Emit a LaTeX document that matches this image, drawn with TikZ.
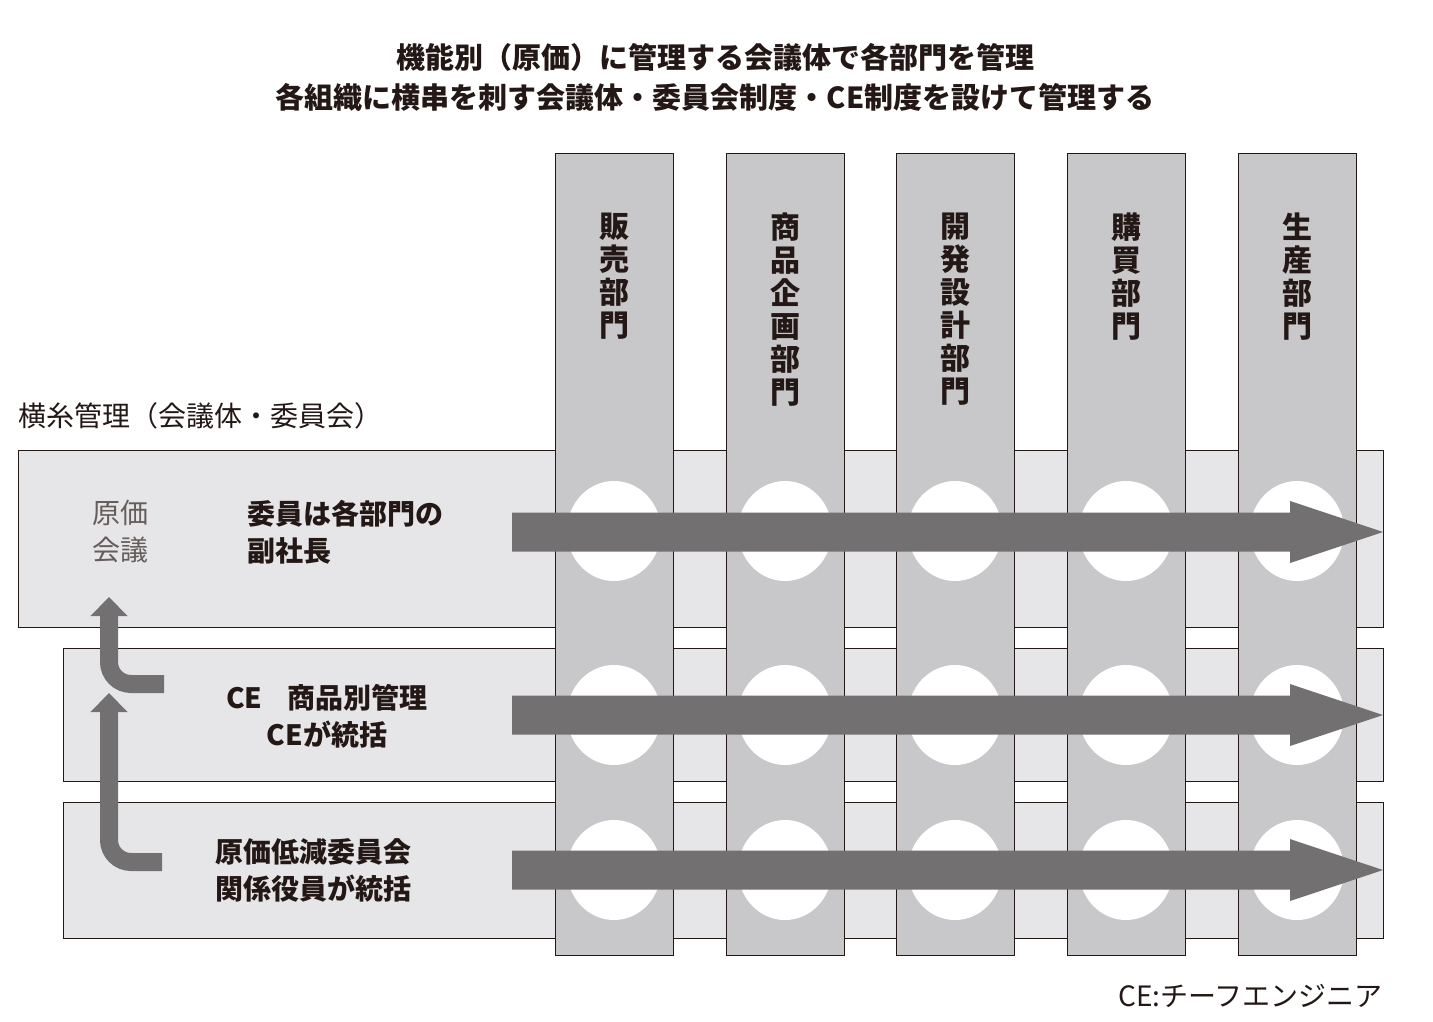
\documentclass[tikz,border=0pt]{standalone}
\usepackage{fontspec}
\setmainfont{Noto Sans CJK JP}
\usetikzlibrary{arrows.meta}
\definecolor{bandc}{HTML}{E6E6E8}
\definecolor{colc}{HTML}{C8C8CA}
\definecolor{arrc}{HTML}{727071}
\definecolor{txt}{HTML}{231815}
\tikzset{
 band/.style={draw=txt, line width=0.9pt, fill=bandc},
 column/.style={draw=txt, line width=0.9pt, fill=colc},
 hole/.style={fill=white, draw=none},
 bigarrow/.style={draw=none, fill=arrc},
 uparrow/.style={draw=arrc, line width=18pt, rounded corners=22pt, -{Triangle[width=36pt,length=19pt]}},
 coltext/.style={font=\fontsize{30}{33}\selectfont\bfseries, align=center, anchor=north, text=txt, inner sep=0},
 lbl/.style={font=\fontsize{28}{37}\selectfont\bfseries, text=txt, inner sep=0},
}
\begin{document}
\begin{tikzpicture}[x=1pt,y=-1pt]
\useasboundingbox (0,0) rectangle (1433,1022);
% titles
\node[font=\fontsize{29}{30}\selectfont\bfseries, text=txt] (t1) at (715,57) {機能別（原価）に管理する会議体で各部門を管理};
\node[font=\fontsize{29}{30}\selectfont\bfseries, text=txt] (t2) at (715,97) {各組織に横串を刺す会議体・委員会制度・CE制度を設けて管理する};
% bands
\path[band] (18,450) rectangle (1383,627);
\path[band] (63,648) rectangle (1383,781);
\path[band] (63,802) rectangle (1383,938);
% columns
\foreach \x [count=\i] in {555,726,896,1067,1238}{
  \path[column] (\x,153) rectangle ({\x+118},955);
  \begin{scope}
   \clip (\x,153) rectangle ({\x+118},955);
   \foreach \y in {531,715,870}{
     \path[hole] ({\x+59},\y) ellipse (47 and 50);
   }
  \end{scope}
}
\node[coltext] (c1) at (614,213) {販\\売\\部\\門};
\node[coltext] (c2) at (785,213) {商\\品\\企\\画\\部\\門};
\node[coltext] (c3) at (955,213) {開\\発\\設\\計\\部\\門};
\node[coltext] (c4) at (1126,213) {購\\買\\部\\門};
\node[coltext] (c5) at (1297,213) {生\\産\\部\\門};
% big arrows
\foreach \y in {532,715,870}{
  \path[bigarrow] (512,{\y-19.5}) -- (1290,{\y-19.5}) -- (1290,{\y-31}) -- (1383,\y) -- (1290,{\y+31}) -- (1290,{\y+19.5}) -- (512,{\y+19.5}) -- cycle;
}
% up arrows
\coordinate (a1s) at (164,684);
\coordinate (a1e) at (109,597);
\coordinate (a2s) at (162,862);
\coordinate (a2e) at (109,693);
\draw[uparrow] (a1s) -| (a1e);
\draw[uparrow] (a2s) -| (a2e);
% labels
\node[font=\fontsize{28}{30}\selectfont, text=txt, anchor=west, inner sep=0] (yoko) at (18,416) {横糸管理（会議体・委員会）};
\node[font=\fontsize{28}{37}\selectfont, text=txt!70, align=center, inner sep=0] (genka) at (120,532) {原価\\会議};
\node[lbl, align=left, anchor=west] (iin) at (247,532) {委員は各部門の\\副社長};
\node[lbl, align=center] (ce) at (327,716) {CE\hspace{0.9em}商品別管理\\CEが統括};
\node[lbl, align=left, anchor=west] (gentei) at (215,870) {原価低減委員会\\関係役員が統括};
\node[font=\fontsize{28}{30}\selectfont, text=txt, anchor=east, inner sep=0] (foot) at (1383,996) {CE:チーフエンジニア};
\end{tikzpicture}
\end{document}
